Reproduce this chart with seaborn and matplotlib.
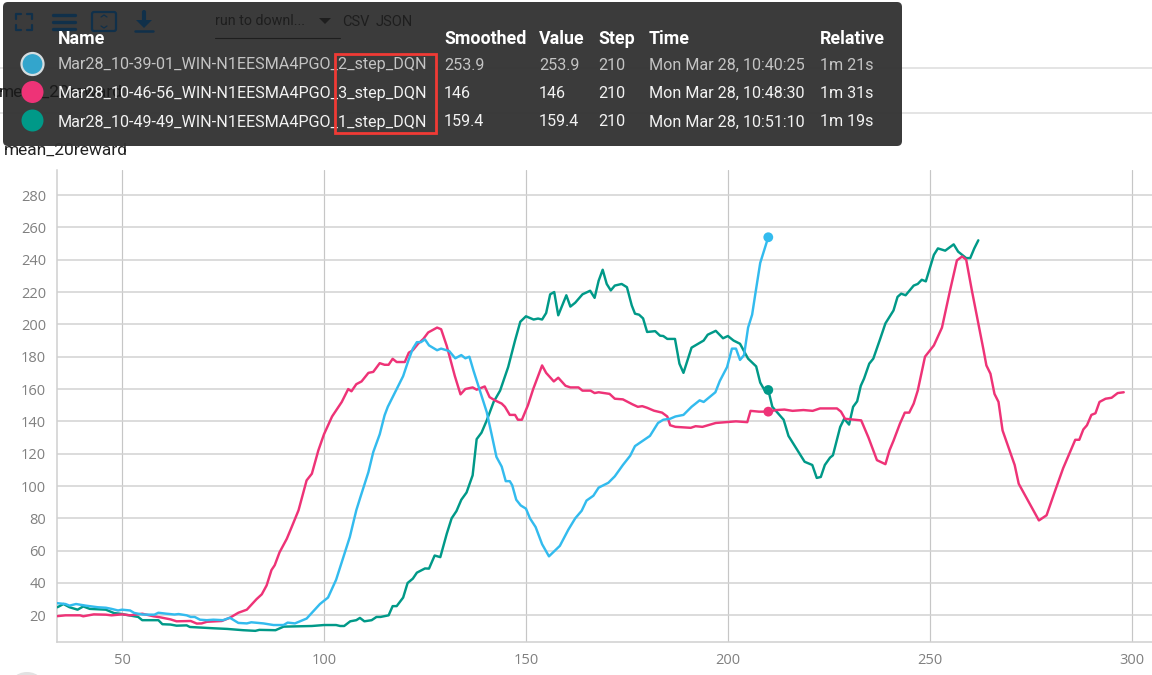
import matplotlib
matplotlib.use('Agg')
import matplotlib.pyplot as plt
from matplotlib.patches import FancyBboxPatch, Circle, Rectangle
import pandas as pd
import seaborn as sns

# values
blue_steps = [34,36,37,38.6,41,44,46,47.4,49,50,52,53,55,58,59,61,63,64,66,67,68,69.3,71,72.6,75,76.7,78.8,80.9,82,85,87.5,90,91,92.8,95.7,99,101,103,104.8,106.4,108,109,111,112.2,113.8,115,115.8,118,119.6,120.9,122,123,124,125,126,128,129,131,132.5,134,135,136,137,138.6,140.3,141.5,142.7,144,145,146,146.6,147.6,148.7,150,151,152.4,154,155.7,158.4,160.5,162.2,163.8,165,166.7,168,170.4,172,174,175.8,177,180.7,182.7,184,185.7,187,189,191,193,194,196.9,198,199.8,201,202,203,204,205,206,206.8,208,210]
blue_values = [27.5,27,26,27,26,25,24.7,24,23,23.5,23,21.5,20.5,20.4,21.6,21,20.5,20.8,20,19,19,17.3,17,17.3,17,18.5,15.3,15,15.7,15,14,14,15.5,15,18,27,31,42,56,68.5,85,93,108.6,121,132,143.7,149,160,168,177.7,185,189,189,190.7,187,184,185,183.5,179,181,179,180,171.5,159,145.7,132,118,112,103,103,100.5,91.5,88,86,80,74.6,64,56.5,63,73,80,84.7,91,94,99,102,106,113,118.7,124.7,131,139,141,141.6,143,144,149,153,152,158,165,173.6,185,185,178,181,198,206,219,238,254]

pink_steps = [34,36,39.6,40.4,43,46,47.4,50,52,55,57.8,59.4,62,63.5,67,68.5,69.7,71,74.7,76.7,78.8,80.9,83.3,84.6,85.8,87,87.8,89,90.8,92,93.7,95.7,97,98.6,100,102,103,104.4,106,106.8,108,109.3,111,112.2,113.8,115,116,117,118,120,121,122,123.3,124.6,125.8,128,129,130.4,132.4,133.8,135,136.8,137.8,139.8,141,142.3,144,144.8,146,147.3,148,149,150.5,151.8,154,155,156.9,158,159.8,161,163,164,166,167,168,170.7,172,174,176.4,177.7,178.8,180,181.7,183.7,185,185.7,187,190.8,192,193.7,197,202,204.8,205.6,207.7,210,212,214,216,218.7,221,222.8,227,228,229,233,234.8,236.9,239,240,241,242.6,243.8,244.9,246,247,248.8,251,253,255,256.7,258,259,260.4,262,263.3,264,265,266,267,268,270,271,272,274.5,277,278.9,281,283,286,287,288,288.9,290,291,292,293.5,295,296.5,298]
pink_values = [19.5,20,20,19.4,20.6,20.4,20,20.6,20,21,19.4,18.8,17.5,16.3,16.5,14.9,15,16,16.5,18.5,21.6,23.5,30,33,38.5,48,51,59,67.4,74.6,85,103.5,107.6,122,132,143,146.8,152,160,158.6,163,164.7,170,170.6,176,175,175,178.7,176.7,176.7,182.5,184,188,191,195,198,197,186.6,168,156.7,160,161,159.6,161.6,155,153,151,149,144,144,141,141,150,160,174.6,170,164.7,167,162,161,161,159,159,157.5,158,157,154,153.6,150.5,149,149.4,148.4,146.6,145.4,143,137.6,136.6,136,137,136.6,139,140,139.5,146.5,146,146,147,147.3,146.5,147,146.5,148,148,146,141.6,140.6,130,116,113.5,122,128,138.6,145.4,145.4,151,159,180,187,198,221,239.6,242,240,221,200.6,184,174.6,169.5,157,152,134.4,120,113,101.4,90,78.7,81.9,97,111,128.6,128.6,135,137.6,144,145,152,154,154.6,157.5,158]

green_steps = [34,35.5,37,39,40.4,42,46,48,49.5,54,55,59,60,62,63.5,66,66.8,72.6,76,80,83,84,88,90,97,100,103,104,105,106.5,108,108.9,110,111.8,113,114,116,117,118,119.6,120.7,122,123,125,126,127.4,128.8,130.4,131.6,132.8,134,135.3,136.8,137.8,139,140.3,142,143.6,145.6,147.3,148.6,150,151.9,153,154,155,156,157,158,160,161,162.2,164,165.9,167,168,169,170,171,172,173.7,175,176.2,177,178,179,180,182,183.2,184,185,186.9,188,189,191,194,195,197,198.8,200,201.4,203,205,207,208,209,210,211,213.8,215,217,219,220.9,222,223,224,225.3,226,227.8,228.8,230,231,232,232.9,233.7,235,236,237.7,239,241,242,242.9,244,246,247,248,249,251,252,253.8,255.9,257,259,260,261,262]
green_values = [25,27,25,23.5,25.5,24,23.5,21.4,21,19,17,17,14.5,14.3,13.6,13.8,12.8,12,11.6,10.8,10.4,11,10.8,13,13.4,14,14,13.4,13.4,16.3,17,18.4,16.3,17,19,19,20,25.7,25.7,31,40,42.7,46.4,49,48.9,57,56,70.5,80,84.5,91.5,96,106.6,129,133,140.6,152,159,173.6,190,201.6,205,203,203.6,203,207,218.6,220,205.6,218,211,213.4,218.6,220.8,216.4,227,233.8,225,221,224,225,223,211.7,206.6,206,203.7,195.3,195.8,193,192.8,191,191,175.7,170,185.6,190,193.6,196,191.4,192.8,190,188,178.8,174,164,159.6,159.4,149,141,131,123,115,113,105,105.6,113,117.6,119,136.5,141.6,138,149,152.4,162,166.4,175.7,178.8,191,200.6,208.6,217,219,218,224,225,227.6,226.6,243,247,245.6,249.5,245,241,241,247,252]

run_names = ['Mar28_10-49-49_WIN-N1EESMA4PGO_1_step_DQN', 'Mar28_10-46-56_WIN-N1EESMA4PGO_3_step_DQN', 'Mar28_10-39-01_WIN-N1EESMA4PGO_2_step_DQN']
run_colors = ['#009988', '#ee3377', '#33bbee']
hover_step = [210, 210, 210]
hover_value = [159.4, 146, 253.9]
x_ticks = [50, 100, 150, 200, 250, 300]
y_ticks = [20, 40, 60, 80, 100, 120, 140, 160, 180, 200, 220, 240, 260, 280]

# tooltip rows, in the order shown
tip_names = [run_names[2], run_names[1], run_names[0]]
tip_smoothed = ['253.9', '146', '159.4']
tip_values = ['253.9', '146', '159.4']
tip_steps = ['210', '210', '210']
tip_times = ['Mon Mar 28, 10:40:25', 'Mon Mar 28, 10:48:30', 'Mon Mar 28, 10:51:10']
tip_relative = ['1m 21s', '1m 31s', '1m 19s']
tip_dots = ['#33a5cc', '#ee3377', '#009988']

sns.set_theme(style='whitegrid')
plt.rcParams['font.family'] = ['Roboto', 'DejaVu Sans']

df = pd.concat([
    pd.DataFrame({'step': green_steps, 'value': green_values, 'run': run_names[0]}),
    pd.DataFrame({'step': pink_steps, 'value': pink_values, 'run': run_names[1]}),
    pd.DataFrame({'step': blue_steps, 'value': blue_values, 'run': run_names[2]}),
])
hover = pd.DataFrame({'step': hover_step, 'value': hover_value, 'run': run_names})
palette = dict(zip(run_names, run_colors))

W, H = 1152, 675
fig = plt.figure(figsize=(W / 100, H / 100), dpi=100, facecolor='white')
ax = fig.add_axes([57 / W, 1 - 642 / H, (W - 57) / W, (642 - 170) / H])

sns.lineplot(data=df, x='step', y='value', hue='run', palette=palette, estimator=None,
             sort=False, linewidth=1.75, legend=False, ax=ax, zorder=3)
sns.scatterplot(data=hover, x='step', y='value', hue='run', palette=palette, s=50,
                linewidth=0, legend=False, ax=ax, zorder=4)

ax.set_xlim(33.9, 305)
ax.set_ylim(3.5, 295.5)
ax.set_xticks(x_ticks)
ax.set_yticks(y_ticks)
ax.set_xlabel('')
ax.set_ylabel('')
ax.yaxis.grid(True, color='#d2d2d2', linewidth=1.1)
ax.xaxis.grid(True, color='#c6c6c6', linewidth=0.85)
ax.set_axisbelow(True)
for side in ['top', 'right']:
    ax.spines[side].set_visible(False)
for side in ['left', 'bottom']:
    ax.spines[side].set_color('#d0d0d0')
    ax.spines[side].set_linewidth(1.1)
ax.tick_params(axis='both', length=5, width=0.9, color='#d2d2d2', labelcolor='#808080', labelsize=10.5, pad=3)
for lab in ax.get_xticklabels() + ax.get_yticklabels():
    lab.set_family(['Open Sans', 'DejaVu Sans'])

# page furniture around the chart, in pixel coordinates
top = fig.add_axes([0, 0, 1, 1], zorder=5)
top.set_xlim(0, W)
top.set_ylim(H, 0)
top.axis('off')
top.patch.set_alpha(0)

top.plot([0, W], [67.5, 67.5], color='#dddddd', lw=1.1, zorder=1)
top.plot([0, W], [113, 113], color='#dddddd', lw=1.1, zorder=1)
top.add_patch(Circle((27, 692), 20, color='#e2e2e2', lw=0, zorder=1))
top.text(4, 150, 'mean_20reward', fontsize=12.5, color='#222222', va='center', ha='left', zorder=1)

top.add_patch(FancyBboxPatch((6, 5), 893, 138, boxstyle='round,pad=3,rounding_size=5', fc='#333333',
                             ec='none', alpha=0.96, zorder=2))

# things behind the tooltip that still show through
navy = '#10304a'
for cx, cy, dx, dy in [(16, 14, 1, 1), (32, 14, -1, 1), (16, 30, 1, -1), (32, 30, -1, -1)]:
    top.plot([cx, cx, cx + 5 * dx], [cy + 5 * dy, cy, cy], color=navy, lw=1.6, zorder=3)
for yy in [15, 22, 29]:
    top.plot([53, 75], [yy, yy], color=navy, lw=2.4, zorder=3)
top.add_patch(FancyBboxPatch((92, 12), 24, 19, boxstyle='round,pad=0,rounding_size=2', fc='none', ec=navy, lw=1.6, zorder=3))
top.plot([101, 104, 107], [17, 15, 17], color=navy, lw=0.9, zorder=3)
top.plot([101, 104, 107], [26, 28, 26], color=navy, lw=0.9, zorder=3)
top.plot([144, 144], [12, 21], color=navy, lw=3, zorder=3)
top.fill([136, 152, 144], [20, 20, 28], color=navy, lw=0, zorder=3)
top.plot([135, 153], [30.5, 30.5], color=navy, lw=1.8, zorder=3)
top.text(215, 21, 'run to downl...', fontsize=10.3, color='#1e1e1e', va='center', zorder=3)
top.fill([319, 331, 325], [18, 18, 24], color='#1e1e1e', lw=0, zorder=3)
top.plot([215, 340], [37.5, 37.5], color='#1e1e1e', lw=0.8, zorder=3)
top.text(342, 22.5, 'CSV', fontsize=10.5, color='#1e1e1e', va='center', zorder=3)
top.text(376, 22.5, 'JSON', fontsize=10.5, color='#1e1e1e', va='center', zorder=3)
top.text(-1, 92, 'mean_20reward', fontsize=12.5, color='#1a1a1a', va='center', zorder=3)

col_x = [58, 444, 539, 598, 649, 820]
headers = ['Name', 'Smoothed', 'Value', 'Step', 'Time', 'Relative']
for xx, head in zip(col_x, headers):
    top.text(xx, 39, head, fontsize=12.8, fontweight='bold', color='white', va='center', zorder=4)

row_y = [65, 93.5, 122]
dot_y = [64, 92, 120.5]
row_colors = ['#c4c4c4', '#f2f2f2', '#f2f2f2']
for i, yy in enumerate(row_y):
    cells = [tip_names[i], tip_smoothed[i], tip_values[i], tip_steps[i], tip_times[i], tip_relative[i]]
    for xx, cell in zip(col_x, cells):
        top.text(xx, yy, cell, fontsize=11.65, color=row_colors[i], va='center', zorder=4)
    top.add_patch(Circle((32.5, dot_y[i]), 11, fc=tip_dots[i], ec='#d5dde0' if i == 0 else 'none', lw=1.6 if i == 0 else 0, zorder=4))

top.add_patch(Rectangle((335, 54), 101, 79, fc='none', ec='#f03a35', lw=2, zorder=5))

fig.savefig('out.png', dpi=100, facecolor='white')
